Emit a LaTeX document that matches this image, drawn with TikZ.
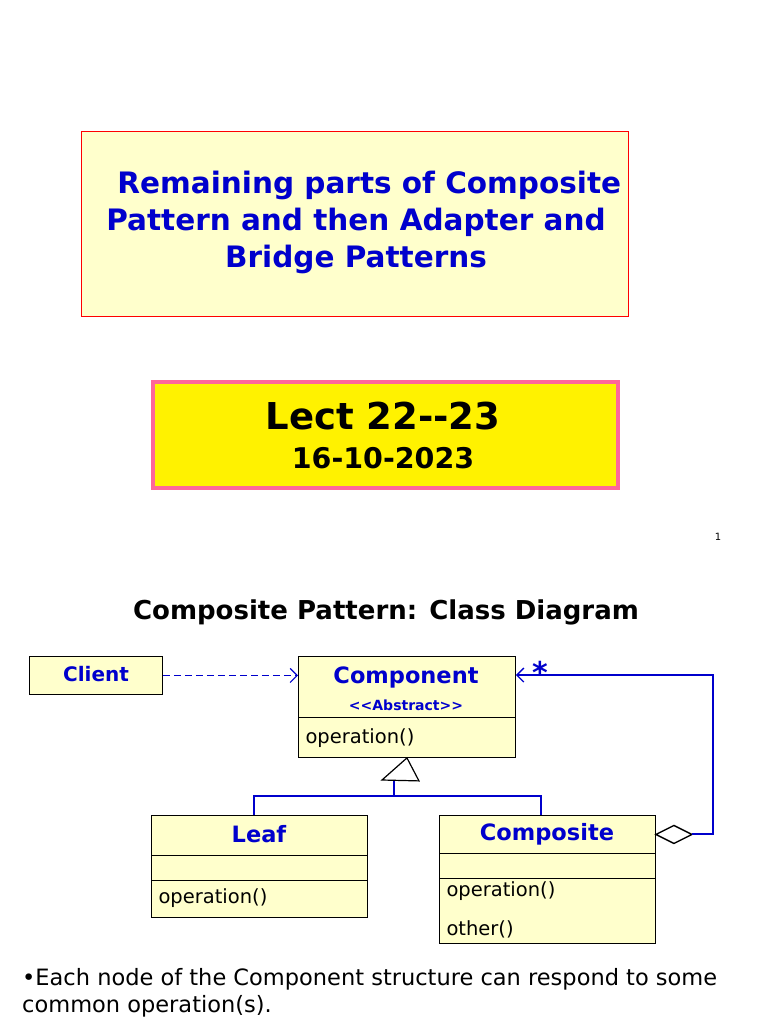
\documentclass[tikz,border=0pt]{standalone}
\usepackage{fontspec}
\setmainfont{DejaVu Sans}
\usetikzlibrary{arrows.meta}
\definecolor{ly}{RGB}{255,255,204}
\definecolor{bl}{RGB}{0,0,204}
\definecolor{pk}{RGB}{255,102,153}
\tikzset{cls/.style={draw=black,fill=ly,line width=0.9pt},
 bt/.style={text=bl,font=\bfseries\fontsize{22.5}{26}\selectfont},
 body/.style={font=\fontsize{19.5}{22}\selectfont,anchor=west}}
\begin{document}
\begin{tikzpicture}[x=1pt,y=-1pt]
\useasboundingbox (0,0) rectangle (768,1024);
\node[draw=red,fill=ly,line width=1.2pt,minimum width=547pt,minimum height=185pt,anchor=north west] (title) at (81,131) {};
\node[text=bl,font=\bfseries\fontsize{29.5}{37}\selectfont,align=center] (tt) at (356,222) {\hspace*{0.9em}Remaining parts of Composite\\Pattern and then Adapter and\\Bridge Patterns};
\node[draw=pk,fill=yellow,line width=4pt,minimum width=465pt,minimum height=106pt,anchor=north west] (lect) at (151,380) {};
\node[font=\bfseries\fontsize{37}{40}\selectfont] (l1) at (383,416) {Lect 22{-}{-}23};
\node[font=\bfseries\fontsize{28.5}{30}\selectfont] (l2) at (383,458) {16-10-2023};
\node[font=\fontsize{10}{12}\selectfont] (pg) at (718,537) {1};
\node[font=\bfseries\fontsize{26}{28}\selectfont] (ct) at (386,612) {Composite Pattern: Class Diagram};
% Client
\node[cls,minimum width=133pt,minimum height=38pt,anchor=north west] (client) at (29,656) {};
\node[text=bl,font=\bfseries\fontsize{20}{22}\selectfont] at (96,674) {Client};
% Component
\node[cls,minimum width=217pt,minimum height=61pt,anchor=north west] (comp) at (298,656) {};
\node[cls,minimum width=217pt,minimum height=40pt,anchor=north west] (compop) at (298,717) {};
\node[bt] at (406,677) {Component};
\node[text=bl,font=\bfseries\fontsize{14}{16}\selectfont] at (406,705) {<{}<Abstract>{}>};
\node[body] at (302,738) {operation()};
% Leaf
\node[cls,minimum width=216pt,minimum height=40pt,anchor=north west] (leaf) at (151,815) {};
\node[cls,minimum width=216pt,minimum height=25pt,anchor=north west] (leafa) at (151,855) {};
\node[cls,minimum width=216pt,minimum height=37pt,anchor=north west] (leafo) at (151,880) {};
\node[bt] at (259,834) {Leaf};
\node[body] at (155,898) {operation()};
% Composite
\node[cls,minimum width=216pt,minimum height=38pt,anchor=north west] (cmp) at (439,815) {};
\node[cls,minimum width=216pt,minimum height=25pt,anchor=north west] (cmpa) at (439,853) {};
\node[cls,minimum width=216pt,minimum height=65pt,anchor=north west] (cmpo) at (439,878) {};
\node[bt] at (547,834) {Composite};
\node[body] at (443,891) {operation()};
\node[body] at (443,929) {other()};
% connectors
\draw[bl,dash pattern=on 7pt off 4pt,line width=1.2pt,-{Straight Barb[length=7pt,width=14pt]}] (client.east) -- (comp.west|-client.east);
\coordinate (tri) at (394,780);
\coordinate (j) at (394,796);
\coordinate (lj) at (254,796);
\coordinate (rj) at (541,796);
\draw[bl,line width=1.3pt] (lj|-leaf.north) -- (lj) -- (rj) -- (rj|-cmp.north);
\draw[bl,line width=1.3pt] (j) -- (tri);
\draw[black,fill=white,line width=1.2pt] (tri) ++(-12,0) -- (compop.south) -- ++(12,23) -- cycle;
\coordinate (c1) at (713,834);
\coordinate (c2) at (713,675);
\draw[black,fill=white,line width=1.4pt] (cmp.east) -- ++(18,-9) -- ++(18,9) -- ++(-18,9) -- cycle;
\coordinate (dend) at (692,834);
\draw[bl,line width=1.3pt,-{Straight Barb[length=7pt,width=14pt]}] (dend) -- (c1) -- (c2) -- (comp.east|-c2);
\node[text=bl,font=\bfseries\fontsize{30}{30}\selectfont] at (540,672) {*};
\node[font=\fontsize{22.5}{27}\selectfont,align=left,anchor=north west,inner sep=0pt] (note) at (22,968) {•Each node of the Component structure can respond to some\\common operation(s).};
\end{tikzpicture}
\end{document}
